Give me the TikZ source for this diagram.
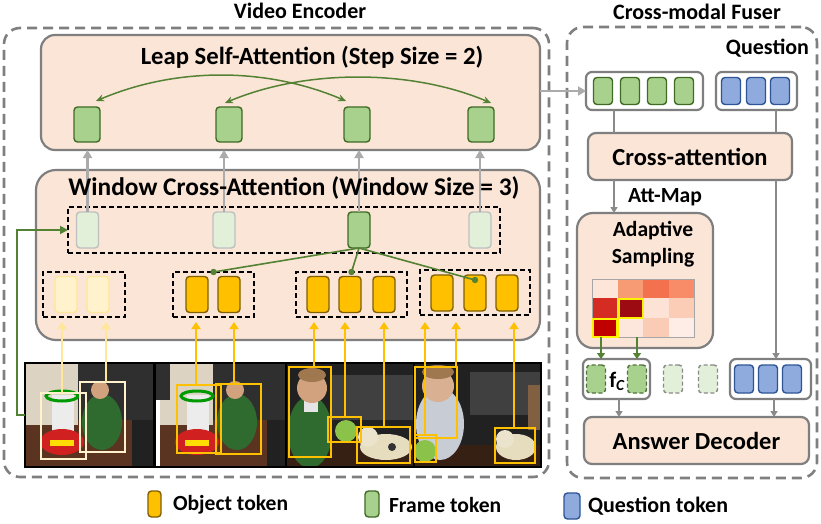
\documentclass[tikz,border=0pt]{standalone}
\usepackage{fontspec}
\setmainfont{Carlito}
\usetikzlibrary{arrows.meta}
\newcommand\myfs[1]{\fontsize{#1}{#1}\selectfont\bfseries}
\definecolor{peach}{HTML}{FBE5D6}
\definecolor{dgray}{HTML}{7F7F7F}
\definecolor{agray}{HTML}{ABABAB}
\definecolor{fgray}{HTML}{8A8A8A}
\definecolor{objF}{HTML}{FFC000}
\definecolor{objD}{HTML}{806000}
\definecolor{objFa}{HTML}{FFF2CC}
\definecolor{objDa}{HTML}{FFE699}
\definecolor{frmF}{HTML}{A9D18E}
\definecolor{frmD}{HTML}{3F6B25}
\definecolor{frmFa}{HTML}{E2F0D9}
\definecolor{frmDa}{HTML}{BFBFBF}
\definecolor{qF}{HTML}{8FAADC}
\definecolor{qD}{HTML}{2F5597}
\definecolor{gline}{HTML}{548235}
\definecolor{yarrC}{HTML}{FFC000}
\definecolor{yarrCa}{HTML}{FFE699}
\definecolor{floorC}{HTML}{5A3420}
\definecolor{wallC}{HTML}{DCD3C2}
\definecolor{darkC}{HTML}{2F2F2F}
\definecolor{toyred}{HTML}{D02020}
\definecolor{jacket}{HTML}{2F6A2F}
\definecolor{skin}{HTML}{D2A27E}
\definecolor{hair}{HTML}{A07850}
\definecolor{appleC}{HTML}{8BC34A}
\definecolor{catC}{HTML}{E6DCBE}
\definecolor{shirtC}{HTML}{C8CCD4}
\definecolor{hA}{HTML}{FDE5DA}
\definecolor{hB}{HTML}{F79B74}
\definecolor{hC}{HTML}{F4714F}
\definecolor{hD}{HTML}{F88C68}
\definecolor{hE}{HTML}{D42B23}
\definecolor{hF}{HTML}{9C0A12}
\definecolor{hG}{HTML}{FDE3D6}
\definecolor{hH}{HTML}{FBCDB6}
\definecolor{hI}{HTML}{C00000}
\definecolor{hJ}{HTML}{FDE6DB}
\definecolor{hK}{HTML}{FBCCB5}
\definecolor{hL}{HTML}{FEEDE6}
\newcommand\myroom{%
  \fill[floorC] (25,363) rectangle (154,467);
  \fill[wallC] (25,363) rectangle (78,425);
  \fill[darkC] (78,363) rectangle (154,420);
  \fill[darkC!70!black] (132,420) rectangle (154,467);
  \fill[white!85!gray] (52,395) rectangle (74,440);
  \fill[toyred] (62,442) ellipse [x radius=22pt, y radius=13pt];
  \fill[yellow!80!orange] (50,440) rectangle (74,446);
  \draw[green!60!black, line width=3pt] (62,396) ellipse [x radius=16pt, y radius=5pt];
  \fill[jacket] (102,422) ellipse [x radius=20pt, y radius=28pt];
  \fill[skin] (100,390) circle [radius=9pt];
}
\tikzset{
  box/.style={draw=dgray, line width=2.2pt, fill=peach, rounded corners=14pt},
  dbox/.style={draw=dgray, line width=2.6pt, dash pattern=on 10pt off 6pt, rounded corners=16pt},
  wbox/.style={draw=dgray, line width=2.2pt, fill=white, rounded corners=6pt},
  grpbox/.style={draw=black, line width=1.4pt, dash pattern=on 5pt off 3pt},
  tok/.style={rounded corners=3.5pt, line width=1.4pt},
  ftok/.style={tok, draw=frmD, fill=frmF},
  ftokfade/.style={tok, draw=frmDa, fill=frmFa},
  otok/.style={tok, draw=objD, fill=objF},
  otokfade/.style={tok, draw=objDa, fill=objFa},
  qtok/.style={tok, draw=qD, fill=qF},
  ftokdash/.style={tok, draw=frmD!70!gray, fill=frmF, dash pattern=on 4pt off 2.5pt},
  ftokdashfade/.style={tok, draw=fgray, fill=frmFa, dash pattern=on 4pt off 2.5pt},
  ltok/.style={ftok, minimum width=26pt, minimum height=35pt},
  wtok/.style={minimum width=22pt, minimum height=36pt},
  otk/.style={otok, minimum width=22pt, minimum height=36pt},
  otkf/.style={otokfade, minimum width=22pt, minimum height=36pt},
  stok/.style={minimum width=19pt, minimum height=27pt},
  btok/.style={minimum width=19pt, minimum height=28pt},
  bbW/.style={draw=objFa, line width=1.3pt},
  bbY/.style={draw=yarrC, line width=1.3pt},
  frameP/.style={draw=black, line width=1.6pt},
  garr/.style={draw=agray, line width=2.2pt, -{Triangle[length=8pt,width=9pt]}},
  farr/.style={draw=fgray, line width=2pt, -{Triangle[length=6pt,width=7pt]}},
  fline/.style={draw=fgray, line width=2pt},
  yarr/.style={draw=yarrC, line width=2.5pt, -{Triangle[length=7pt,width=9pt]}},
  yarrf/.style={draw=yarrCa, line width=2.5pt, -{Triangle[length=7pt,width=9pt]}},
  greenarr/.style={draw=gline, line width=1.8pt, -{Triangle[length=8pt,width=8pt]}},
  greenthick/.style={draw=gline, line width=2.8pt, -{Triangle[length=6pt,width=8pt]}},
  greenl/.style={draw=gline, line width=1.6pt},
  leaparc/.style={draw=gline, line width=1.5pt, {Stealth[length=8pt,width=7pt]}-{Stealth[length=8pt,width=7pt]}},
}
\begin{document}
\begin{tikzpicture}[x=1pt, y=-1pt, every node/.style={inner sep=0pt, outer sep=0pt}]
\useasboundingbox (0,0) rectangle (821,524);
\fill[white] (0,0) rectangle (821,524);

% ---------- outer dashed boxes and titles
\node[dbox, minimum width=545pt, minimum height=449pt] (VE) at (276.5,252.5) {};
\node[dbox, minimum width=250pt, minimum height=451pt] (FU) at (692,252.5) {};
\node[font=\myfs{22}] (veT) at (300,11) {Video Encoder};
\node[font=\myfs{22}] (fuT) at (697,12) {Cross-modal Fuser};

% ---------- leap self-attention
\node[box, minimum width=499pt, minimum height=115pt] (LEAP) at (290.5,92.5) {};
\node[font=\myfs{24.7}] (leapT) at (312,57) {Leap Self-Attention (Step Size = 2)};
\node[ltok] (L1) at (87,124.5) {};
\node[ltok] (L2) at (229,124.5) {};
\node[ltok] (L3) at (357,124.5) {};
\node[ltok] (L4) at (481,124.5) {};
\draw[leaparc] ([xshift=-4pt,yshift=6pt]L1.north east) .. controls +(80,-34) and +(-80,-34) .. ([xshift=2pt,yshift=6pt]L3.north west);
\draw[leaparc] ([xshift=9pt,yshift=4pt]L2.north west) .. controls +(80,-34) and +(-80,-34) .. ([xshift=-3pt,yshift=4pt]L4.north east);

% ---------- window cross-attention
\node[box, rounded corners=20pt, minimum width=504pt, minimum height=170pt] (WIN) at (288,255) {};
\node[grpbox, minimum width=432pt, minimum height=46pt] (FG) at (284,230) {};
\node[ftokfade, wtok] (W1) at (87.5,230) {};
\node[ftokfade, wtok] (W2) at (224,230) {};
\node[ftok, wtok] (W3) at (359,230) {};
\node[ftokfade, wtok] (W4) at (480,230) {};
\foreach \w in {W1,W2,W3,W4} \draw[garr] (\w.north) -- (\w.north |- LEAP.south);
\node[font=\myfs{25.4}] (winT) at (294,188) {Window Cross-Attention (Window Size = 3)};

\node[grpbox, minimum width=82pt, minimum height=45pt] (G1) at (84,294.5) {};
\node[grpbox, minimum width=81pt, minimum height=45pt] (G2) at (213.5,294.5) {};
\node[grpbox, minimum width=111pt, minimum height=45pt] (G3) at (351.5,294.5) {};
\node[grpbox, minimum width=110pt, minimum height=45pt] (G4) at (475,292.5) {};
\node[otkf] (O11) at (66,294.5) {};
\node[otkf] (O12) at (98,294.5) {};
\node[otk] (O21) at (197,294.5) {};
\node[otk] (O22) at (229,294.5) {};
\node[otk] (O31) at (318,294.5) {};
\node[otk] (O32) at (350,294.5) {};
\node[otk] (O33) at (384,294.5) {};
\node[otk] (O41) at (442,293) {};
\node[otk] (O42) at (475,293) {};
\node[otk] (O43) at (507,293) {};
\coordinate (d1) at (G2.north);
\coordinate (d2) at (G3.north);
\coordinate (d3) at ([yshift=-5pt]O42.north);
\foreach \d in {d1,d2,d3} {
  \draw[greenl] (W3.south) -- (\d);
  \fill[gline] (\d) circle [radius=3.2pt];
}

% ---------- video frames
\begin{scope}
  \clip (25,363) rectangle (154,467);
  \myroom
\end{scope}
\begin{scope}
  \clip (155,363) rectangle (286,467);
  \begin{scope}[xshift=135pt]
    \myroom
  \end{scope}
  \fill[darkC] (155,363) rectangle (170,400);
\end{scope}
\begin{scope}
  \clip (286,363) rectangle (414,467);
  \fill[darkC!70!black] (286,363) rectangle (414,467);
  \fill[black!75] (330,375) rectangle (414,420);
  \fill[floorC!60!black] (286,440) rectangle (414,467);
  \fill[jacket] (310,432) ellipse [x radius=22pt, y radius=36pt];
  \fill[white!80!gray] (304,400) rectangle (318,412);
  \fill[skin] (312,388) circle [radius=15pt];
  \fill[hair] (312,375) ellipse [x radius=14pt, y radius=7pt];
  \fill[appleC] (346,431) circle [radius=11pt];
  \fill[catC] (386,447) ellipse [x radius=26pt, y radius=13pt];
  \fill[catC!80!white] (368,437) circle [radius=10pt];
  \fill[black!80] (392,447) circle [radius=4pt];
\end{scope}
\begin{scope}
  \clip (414,363) rectangle (541,467);
  \fill[darkC!70!black] (414,363) rectangle (541,467);
  \fill[black!75] (470,372) rectangle (541,415);
  \fill[hair!80!black] (528,385) rectangle (541,430);
  \fill[floorC!60!black] (414,445) rectangle (541,467);
  \fill[shirtC] (440,424) ellipse [x radius=24pt, y radius=36pt];
  \fill[skin!85!white] (438,386) circle [radius=16pt];
  \fill[hair] (438,372) ellipse [x radius=16pt, y radius=7pt];
  \fill[appleC] (425,451) circle [radius=11pt];
  \fill[catC] (516,447) ellipse [x radius=20pt, y radius=13pt];
  \fill[catC!80!white] (505,439) circle [radius=9pt];
\end{scope}
\node[frameP, minimum width=129pt, minimum height=104pt] (P1) at (89.5,415) {};
\node[frameP, minimum width=131pt, minimum height=104pt] (P2) at (220.5,415) {};
\node[frameP, minimum width=128pt, minimum height=104pt] (P3) at (350,415) {};
\node[frameP, minimum width=127pt, minimum height=104pt] (P4) at (477.5,415) {};

\node[bbW, minimum width=45pt, minimum height=66pt] (b1) at (63.5,426) {};
\node[bbW, minimum width=45pt, minimum height=70pt] (b2) at (102.5,417) {};
\node[bbY, minimum width=44pt, minimum height=68pt] (ba) at (199,419) {};
\node[bbY, minimum width=45pt, minimum height=70pt] (bb) at (238.5,419) {};
\node[bbY, minimum width=42pt, minimum height=90pt] (bc) at (310,412) {};
\node[bbY, minimum width=33pt, minimum height=25pt] (bd) at (344.5,429.5) {};
\node[bbY, minimum width=53pt, minimum height=36pt] (be) at (383.5,445) {};
\node[bbY, minimum width=42pt, minimum height=71pt] (bf) at (436,402.5) {};
\node[bbY, minimum width=21pt, minimum height=27pt] (bg) at (425.5,448.5) {};
\node[bbY, minimum width=40pt, minimum height=35pt] (bh) at (515,445.5) {};

\coordinate (t1) at (62,322);
\coordinate (t2) at (106,322);
\coordinate (t3) at (196,322);
\coordinate (t4) at (234,322);
\coordinate (t5) at (314,322);
\coordinate (t6) at (345,322);
\coordinate (t7) at (384,322);
\coordinate (t8) at (425,322);
\coordinate (t9) at (456,322);
\coordinate (t10) at (514,322);
\draw[yarrf] (b1.north -| t1) -- (t1);
\draw[yarrf] (b2.north -| t2) -- (t2);
\draw[yarr] (ba.north -| t3) -- (t3);
\draw[yarr] (bb.north -| t4) -- (t4);
\draw[yarr] (bc.north -| t5) -- (t5);
\draw[yarr] (bd.north -| t6) -- (t6);
\draw[yarr] (be.north -| t7) -- (t7);
\draw[yarr] (bg.north -| t8) -- (t8);
\draw[yarr] (bf.north -| t9) -- (t9);
\draw[yarr] (bh.north -| t10) -- (t10);

\draw[greenarr] (P1.west) -- ++(-8,0) |- (FG.west);

% ---------- cross-modal fuser
\node[font=\myfs{22}, anchor=east] (qlab) at (809,48) {Question};
\node[wbox, minimum width=117pt, minimum height=38pt] (FGp) at (644.5,91) {};
\node[ftok, stok] (V1) at (603,91) {};
\node[ftok, stok] (V2) at (630,91) {};
\node[ftok, stok] (V3) at (657,91) {};
\node[ftok, stok] (V4) at (684,91) {};
\node[wbox, minimum width=81pt, minimum height=38pt] (QG) at (756.5,91) {};
\node[qtok, stok] (Q1) at (731,91) {};
\node[qtok, stok] (Q2) at (756,91) {};
\node[qtok, stok] (Q3) at (780,91) {};
\draw[garr] (LEAP.east |- FGp.west) -- (FGp.west);

\node[box, rounded corners=8pt, minimum width=204pt, minimum height=47pt, font=\myfs{24.5}] (CA) at (690,156.5) {Cross-attention};
\node[box, rounded corners=16pt, minimum width=136pt, minimum height=135pt] (AS) at (645,280.5) {};
\node[font=\myfs{21.6}] (asT1) at (653,231) {Adaptive};
\node[font=\myfs{21.6}] (asT2) at (653,258) {Sampling};
\node[font=\myfs{21.6}] (attm) at (665,197) {Att-Map};

\foreach \i/\j/\c in {0/0/hA,1/0/hB,2/0/hC,3/0/hD,0/1/hE,1/1/hF,2/1/hG,3/1/hH,0/2/hI,1/2/hJ,2/2/hK,3/2/hL}
  \fill[\c] ({592+25.5*\i},{279+19.33*\j}) rectangle ++(25.5,19.33);
\node[draw=gray!70, line width=0.8pt, minimum width=102pt, minimum height=58pt] (HM) at (643,308) {};
\draw[yellow, line width=2.2pt] (618.5,299.3) rectangle ++(24.5,18.3);
\draw[yellow, line width=2.2pt] (593,318.6) rectangle ++(24.5,18.3);

\node[wbox, minimum width=67pt, minimum height=40pt] (F2) at (616.5,379) {};
\node[ftokdash, btok] (C1) at (596,379) {};
\node[ftokdash, btok] (C2) at (637,379) {};
\node[font=\myfs{22}] (fc) at (617,381) {f\textsubscript{\itshape C}};
\node[ftokdashfade, btok] (C3) at (673,379) {};
\node[ftokdashfade, btok] (C4) at (708,379) {};
\node[wbox, minimum width=81pt, minimum height=40pt] (QB) at (770.5,379) {};
\node[qtok, btok] (R1) at (744,379) {};
\node[qtok, btok] (R2) at (768,379) {};
\node[qtok, btok] (R3) at (792,379) {};

\node[box, rounded corners=8pt, minimum width=225pt, minimum height=47pt, font=\myfs{24.5}] (AD) at (696.5,440.5) {Answer Decoder};

\coordinate (xl) at (614,0);
\coordinate (xr) at (776,0);
\coordinate (xa) at (601,0);
\coordinate (xb) at (637,0);
\coordinate (xc) at (619,0);
\coordinate (xd) at (774,0);
\draw[fline] (FGp.south -| xl) -- (CA.north -| xl);
\draw[farr] (CA.south -| xl) -- (AS.north -| xl);
\draw[fline] (QG.south -| xr) -- (CA.north -| xr);
\draw[farr] (CA.south -| xr) -- (QB.north -| xr);
\draw[greenthick] (HM.south -| xa) -- (F2.north -| xa);
\draw[greenthick] (HM.south -| xb) -- (F2.north -| xb);
\draw[farr] (F2.south -| xc) -- (AD.north -| xc);
\draw[farr] (QB.south -| xd) -- (AD.north -| xd);

% ---------- legend
\node[otok, minimum width=13pt, minimum height=26pt] (legO) at (154.5,504) {};
\node[font=\myfs{21.6}, anchor=west] (legOt) at (173,505) {Object token};
\node[ftok, minimum width=14pt, minimum height=26pt] (legF) at (372,504) {};
\node[font=\myfs{21.6}, anchor=west] (legFt) at (389,505) {Frame token};
\node[qtok, minimum width=16pt, minimum height=26pt] (legQ) at (572,506) {};
\node[font=\myfs{22}, anchor=west] (legQt) at (588,506) {Question token};
\end{tikzpicture}
\end{document}
